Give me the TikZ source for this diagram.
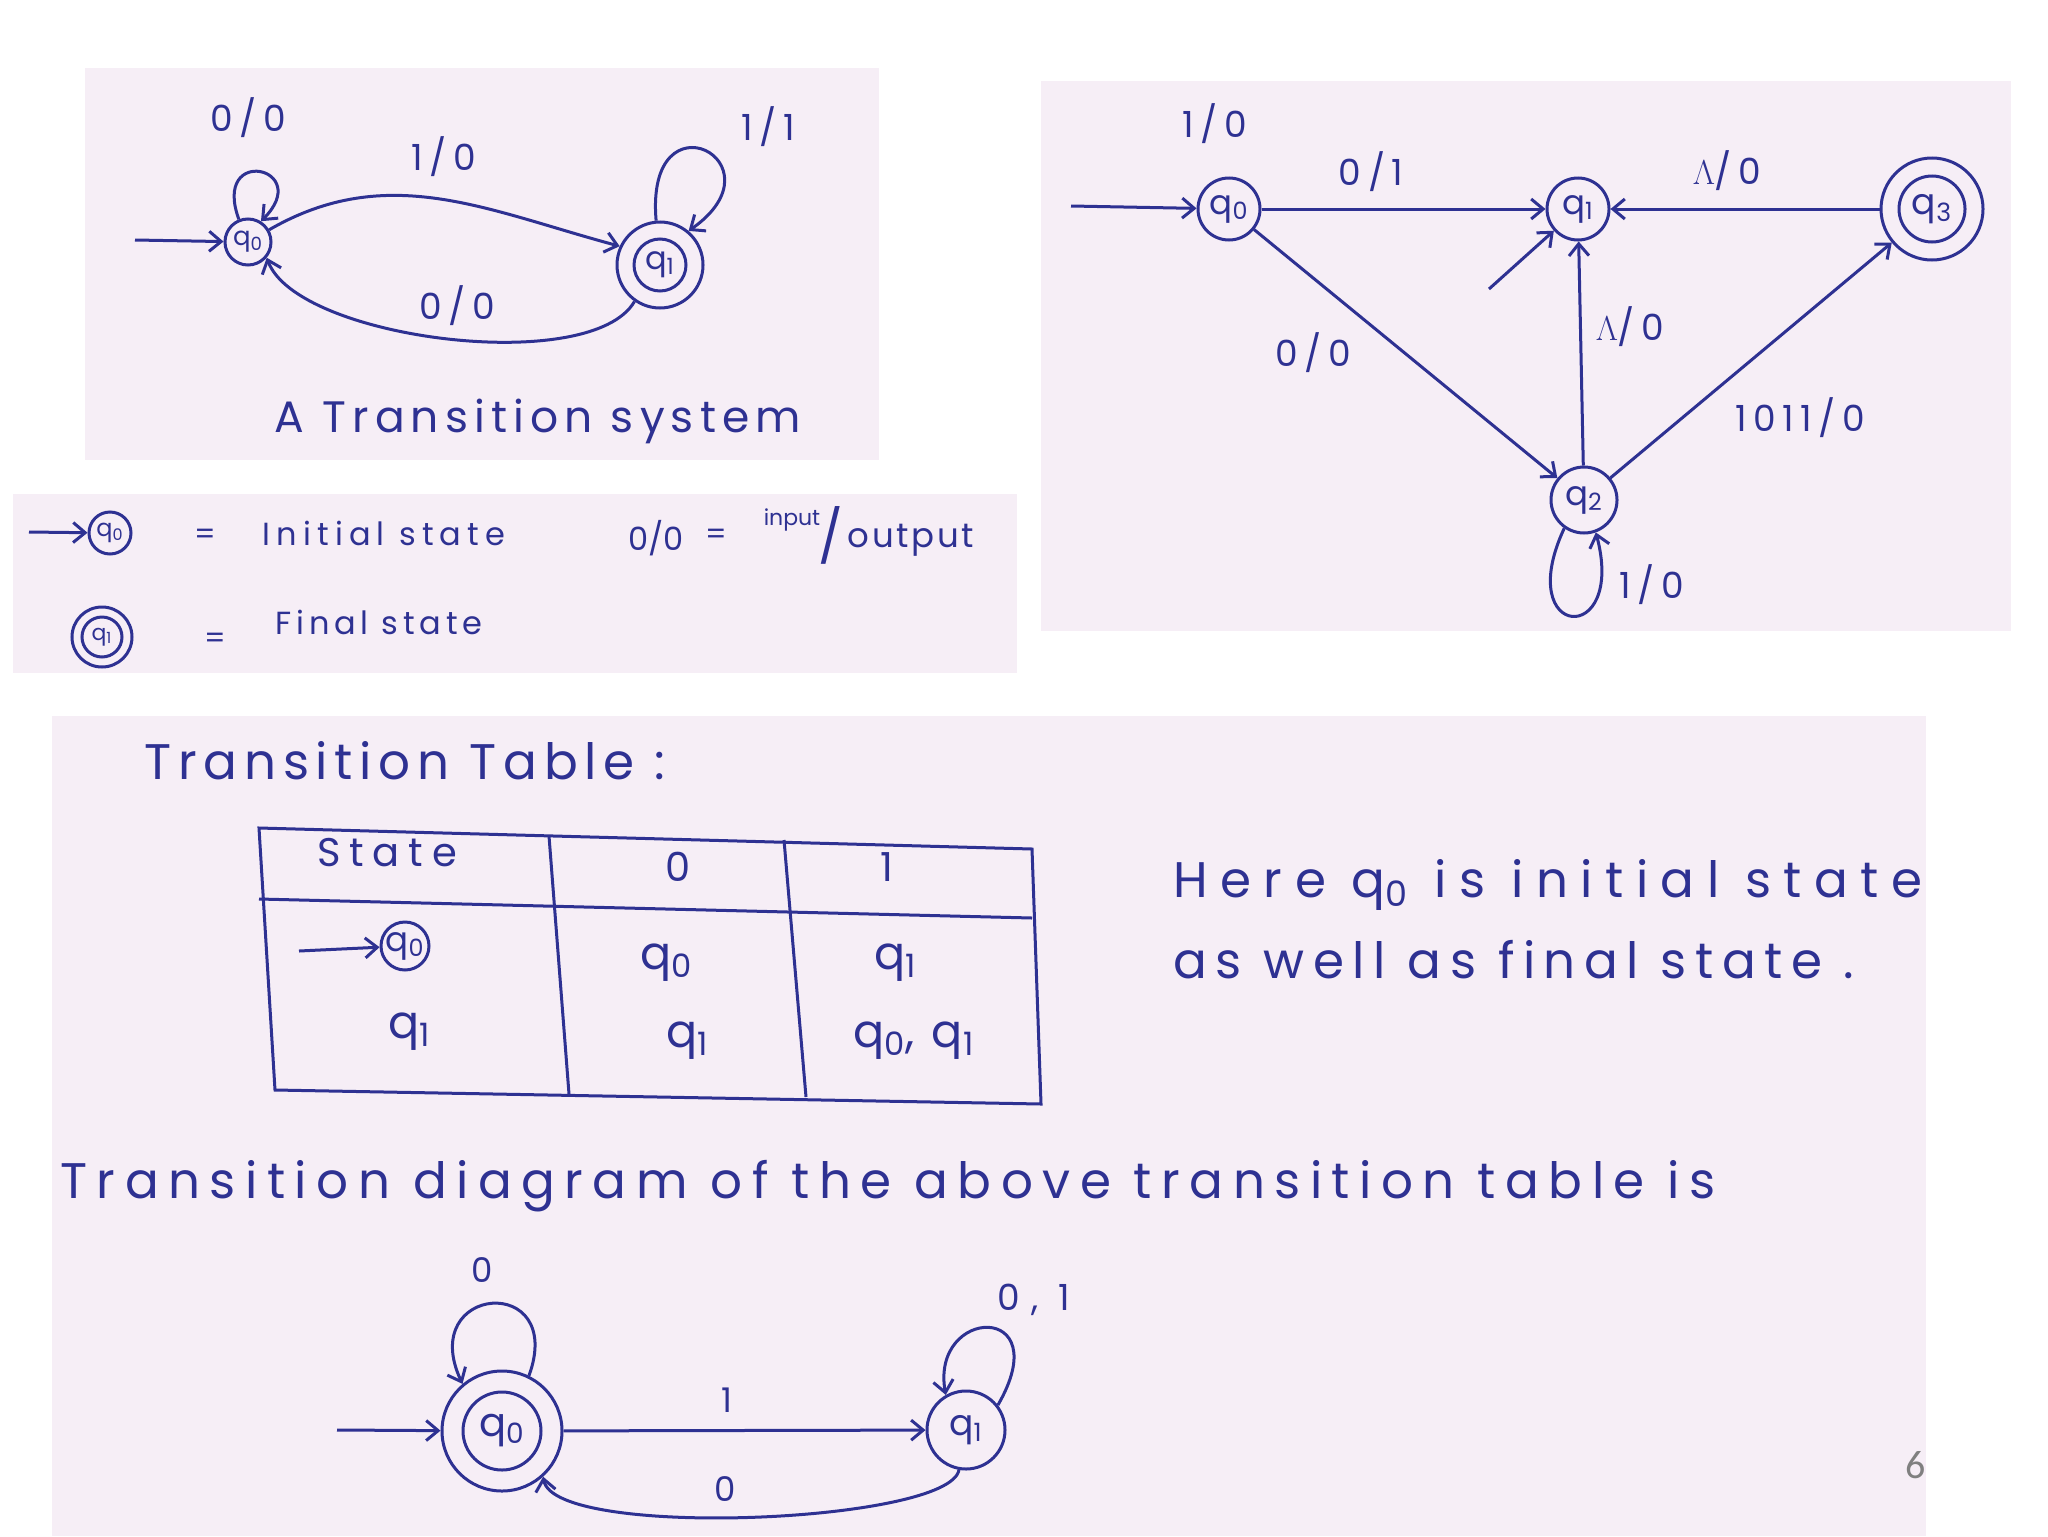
\documentclass[tikz,border=0pt]{standalone}
\usepackage{fontspec}
\setmainfont{Poppins}
\newfontfamily\hand{Poppins}
\newfontfamily\pagefont{Carlito}
\usetikzlibrary{arrows.meta}
\definecolor{ink}{HTML}{2E3192}
\definecolor{paper}{HTML}{F6EEF6}
\newcommand\fs[1]{\fontsize{#1}{#1}\selectfont}
\newcommand\ls[1]{\addfontfeatures{LetterSpace=#1}}
\newcommand\qs[1]{q\textsubscript{#1}}
\begin{document}
\begin{tikzpicture}[x=0.5pt,y=-0.5pt,
  inkl/.style={draw=ink, line width=1.5pt},
  arr/.style={inkl, -{Straight Barb[length=6pt,width=10pt,line width=1.5pt]}},
  st/.style={circle, inkl, inner sep=0pt, text=ink},
  txt/.style={text=ink, inner sep=0pt},
  lbl/.style={txt, font=\hand\fs{18}\ls{18}},
  tbl/.style={txt, font=\hand\fs{23}\ls{10}},
]
\useasboundingbox (0,0) rectangle (2048,1536);
\fill[white] (0,0) rectangle (2048,1536);
% panels
\fill[paper] (85,68) rectangle (879,460);
\fill[paper] (13,494) rectangle (1017,673);
\fill[paper] (1041,81) rectangle (2011,631);
\fill[paper] (52,716) rectangle (1926,1536);

% ---------- panel 1 ----------
\node[st, minimum size=23pt, font=\hand\fs{13}] (p1q0) at (248,242) {\qs{0}};
\node[st, minimum size=43pt, font=\hand\fs{16}] (p1q1) at (660,265) {\qs{1}};
\draw[inkl] (p1q1.center) circle[radius=13pt];
\coordinate (p1in) at (135,240);
\draw[arr] (p1in) -- (p1q0);
\draw[arr] (p1q0.112) .. controls +(110:40pt) and +(45:38pt) .. (p1q0.58);
\draw[arr] (p1q1.95) .. controls +(95:66pt) and +(35:60pt) .. (p1q1.50);
\draw[arr] (p1q0.30) to[out=30,in=165] (p1q1.155);
\draw[arr] (p1q1.235) to[out=240,in=-70,looseness=0.6] (p1q0.-40);
\node[lbl] (p1l1) at (248,118) {0/0};
\node[lbl] (p1l2) at (444,157) {1/0};
\node[lbl] (p1l3) at (768,127) {1/1};
\node[lbl] (p1l4) at (457,306) {0/0};
\node[txt, font=\hand\fs{22}\ls{14}] (p1t) at (538,421) {A Transition system};

% ---------- legend ----------
\node[st, minimum size=21pt, font=\hand\fs{12}] (lq0) at (110,533) {\qs{0}};
\coordinate (lin) at (29,532);
\draw[arr] (lin) -- (lq0);
\node[txt, font=\hand\fs{15}] (leq1) at (205,537) {=};
\node[txt, font=\hand\fs{16}\ls{19}] (linit) at (384,533) {Initial state};
\node[txt, font=\hand\fs{16}] (lio) at (656,538) {0/0};
\node[txt, font=\hand\fs{15}] (leq2) at (716,537) {=};
\node[txt, font=\hand\fs{11}] (lin2) at (792,520) {input};
\node[txt, font=\hand\fs{26}] (lsl) at (831,535) {/};
\node[txt, font=\hand\fs{17}\ls{8}] (lout) at (911,540) {output};
\node[st, minimum size=30pt, font=\hand\fs{11}] (lq1) at (102,637) {\qs{1}};
\draw[inkl] (lq1.center) circle[radius=10pt];
\node[txt, font=\hand\fs{15}] (leq3) at (215,641) {=};
\node[txt, font=\hand\fs{16}\ls{15}] (lfin) at (379,622) {Final state};

% ---------- panel 3 ----------
\node[st, minimum size=31pt, font=\hand\fs{17}] (p3q0) at (1229,209) {\qs{0}};
\node[st, minimum size=31pt, font=\hand\fs{17}] (p3q1) at (1578,209) {\qs{1}};
\node[st, minimum size=33pt, font=\hand\fs{17}] (p3q2) at (1584,500) {\qs{2}};
\node[st, minimum size=51pt, font=\hand\fs{18}] (p3q3) at (1932,209) {\qs{3}};
\draw[inkl] (p3q3.center) circle[radius=16.5pt];
\coordinate (p3in) at (1071,206);
\coordinate (p3x) at (1489,289);
\draw[arr] (p3in) -- (p3q0);
\draw[arr] (p3x) -- (p3q1);
\draw[arr] (p3q0) -- (p3q1);
\draw[arr] (p3q3) -- (p3q1);
\draw[arr] (p3q0) -- (p3q2);
\draw[arr] (p3q2) -- (p3q1);
\draw[arr] (p3q2) -- (p3q3);
\draw[arr] (p3q2.235) .. controls +(245:62pt) and +(285:60pt) .. (p3q2.290);
\node[lbl] (p3l1) at (1215,124) {1/0};
\node[lbl] (p3l2) at (1371,172) {0/1};
\node[lbl] (p3l3) at (1727,171) {$\Lambda$/0};
\node[lbl] (p3l4) at (1630,327) {$\Lambda$/0};
\node[lbl] (p3l5) at (1313,353) {0/0};
\node[lbl] (p3l6) at (1800,418) {1011/0};
\node[lbl] (p3l7) at (1652,585) {1/0};

% ---------- panel 4 ----------
\node[txt, font=\hand\fs{25}\ls{13.5}] (tt) at (405,761) {Transition Table :};
\coordinate (ttl) at (259,828);
\coordinate (ttr) at (1032,849);
\coordinate (tbr) at (1041,1104);
\coordinate (tbl) at (275,1090);
\coordinate (c1t) at (549,836);
\coordinate (c1b) at (569,1094);
\coordinate (c2t) at (784,840);
\coordinate (c2b) at (806,1097);
\coordinate (hl) at (259,899);
\coordinate (hr) at (1032,918);
\draw[inkl] (ttl) -- (ttr) -- (tbr) -- (tbl) -- cycle;
\draw[inkl] (c1t) -- (c1b);
\draw[inkl] (c2t) -- (c2b);
\draw[inkl] (hl) -- (hr);
\node[txt, font=\hand\fs{20}\ls{22}] (th1) at (387,853) {State};
\node[txt, font=\hand\fs{20}] (th2) at (678,867) {0};
\node[txt, font=\hand\fs{20}] (th3) at (887,867) {1};
\node[st, minimum size=24pt, font=\hand\fs{17}] (tq0) at (405,946) {\qs{0}};
\coordinate (tin) at (299,951);
\draw[arr] (tin) -- (tq0);
\node[tbl] (t12) at (667,963) {\qs{0}};
\node[tbl] (t13) at (896,963) {\qs{1}};
\node[tbl] (t21) at (410,1032) {\qs{1}};
\node[tbl] (t22) at (688,1041) {\qs{1}};
\node[tbl] (t23) at (914,1041) {\qs{0}, \qs{1}};
\node[txt, font=\hand\fs{25}\ls{25}] (here1) at (1548,885) {Here \qs{0} is initial state};
\node[txt, font=\hand\fs{25}\ls{17}] (here2) at (1514,960) {as well as final state .};
\node[txt, font=\hand\fs{25}\ls{19}] (tdiag) at (888,1186) {Transition diagram of the above transition table is};

% bottom diagram
\node[st, minimum size=60pt, font=\hand\fs{20}] (bq0) at (502,1431) {\qs{0}};
\draw[inkl] (bq0.center) circle[radius=19.5pt];
\node[st, minimum size=39pt, font=\hand\fs{18}] (bq1) at (966,1430) {\qs{1}};
\coordinate (bin) at (337,1430);
\draw[arr] (bin) -- (bq0);
\draw[arr] (bq0.64) .. controls +(70:55pt) and +(115:55pt) .. (bq0.130);
\draw[arr] (bq1.38) .. controls +(60:60pt) and +(100:45pt) .. (bq1.120);
\draw[arr] (bq0) -- (bq1);
\draw[arr] (bq1.-100) .. controls +(-100:27pt) and +(-80:32pt) .. (bq0.-48);
\node[txt, font=\hand\fs{17}] (bl1) at (482,1270) {0};
\node[txt, font=\hand\fs{18}\ls{30}] (bl2) at (1034,1300) {0, 1};
\node[txt, font=\hand\fs{17}] (bl3) at (727,1400) {1};
\node[txt, font=\hand\fs{17}] (bl4) at (725,1489) {0};
\node[text=gray, inner sep=0pt, font=\pagefont\fs{20}] (pg) at (1916,1465) {6};
\end{tikzpicture}
\end{document}
